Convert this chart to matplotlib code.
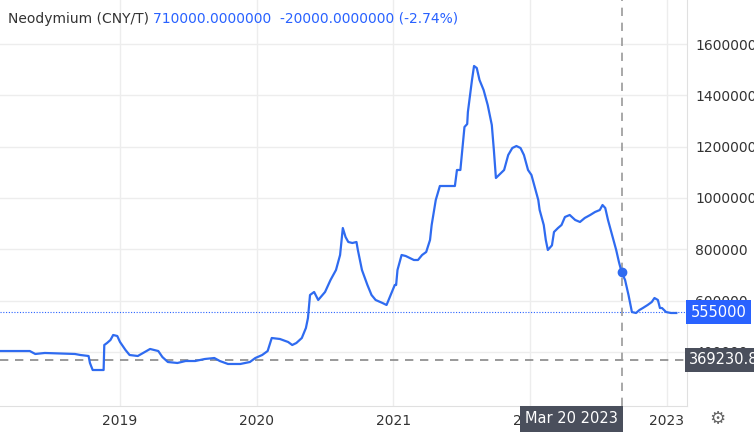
import matplotlib
matplotlib.use("Agg")
import matplotlib.pyplot as plt
from matplotlib.ticker import FuncFormatter

years = [2018.12,2018.34,2018.38,2018.45,2018.67,2018.71,2018.77,2018.78,2018.80,2018.88,2018.885,2018.905,2018.93,2018.95,2018.98,2019.00,2019.04,2019.07,2019.13,2019.18,2019.22,2019.28,2019.31,2019.35,2019.42,2019.48,2019.55,2019.62,2019.69,2019.73,2019.79,2019.88,2019.95,2019.99,2020.04,2020.08,2020.11,2020.17,2020.23,2020.26,2020.29,2020.33,2020.36,2020.375,2020.39,2020.42,2020.45,2020.50,2020.54,2020.58,2020.61,2020.63,2020.65,2020.67,2020.70,2020.73,2020.74,2020.77,2020.81,2020.84,2020.87,2020.92,2020.95,2020.98,2021.01,2021.02,2021.03,2021.06,2021.09,2021.12,2021.15,2021.18,2021.21,2021.24,2021.268,2021.28,2021.31,2021.34,2021.39,2021.45,2021.465,2021.49,2021.52,2021.54,2021.545,2021.575,2021.59,2021.61,2021.63,2021.66,2021.69,2021.72,2021.735,2021.75,2021.78,2021.81,2021.84,2021.87,2021.90,2021.93,2021.955,2021.985,2022.01,2022.03,2022.06,2022.07,2022.10,2022.115,2022.13,2022.16,2022.175,2022.204,2022.23,2022.255,2022.29,2022.33,2022.365,2022.40,2022.44,2022.475,2022.51,2022.53,2022.55,2022.57,2022.60,2022.63,2022.65,2022.67,2022.695,2022.72,2022.745,2022.775,2022.80,2022.825,2022.86,2022.89,2022.91,2022.935,2022.95,2022.965,2022.995,2023.03,2023.07]
prices = [403000,403000,391500,395400,391500,387500,383600,356400,329000,329000,426500,434300,446000,465500,461600,438200,407100,387500,383600,399000,411000,403000,379700,360200,356400,364100,364100,371900,375800,364100,352500,352500,360200,375800,387500,403000,453800,449900,438200,426500,434300,453800,492800,531800,621500,633200,602000,633200,679900,718900,777400,882500,847600,828100,824200,828100,796900,718900,660400,621500,602000,590300,582500,621500,660400,660400,718900,777400,773500,765700,757900,757900,777400,789100,835900,894400,991800,1046400,1046400,1046400,1108800,1108800,1276400,1288100,1334900,1459700,1514300,1506400,1459700,1420700,1362100,1284200,1186800,1077600,1093200,1108800,1167200,1194500,1202300,1194500,1167200,1108800,1089300,1050300,991800,952800,894400,835900,796900,815000,867100,882500,894400,925600,933400,913900,906100,921700,933400,945000,952800,972300,960600,913900,855400,796900,750100,710000,679900,621500,555000,551300,562900,570700,582500,594100,609700,602000,570700,570700,555000,551300,551300]

blue = "#2962ff"
fig = plt.figure(figsize=(7.54, 4.32), dpi=100)
ax = fig.add_axes([0, 26/432, 687/754, 406/432])
ax.plot(years, prices, color="#2f6bf0", lw=1.6, zorder=3)
ax.plot([2022.67], [710000], "o", color="#2f6bf0", ms=6, zorder=4)
ax.set_xlim(2018.122, 2023.148)
ax.set_ylim(188694, 1771540)
ax.set_xticks([2019, 2020, 2021, 2022, 2023])
ax.set_xticklabels(["2019", "2020", "2021", "2022", "2023"])
ax.set_yticks([400000, 600000, 800000, 1000000, 1200000, 1400000, 1600000])
ax.yaxis.set_major_formatter(FuncFormatter(lambda v, p: f"{int(v)}"))
ax.yaxis.tick_right()
ax.tick_params(length=0, labelsize=10, colors="#333333", pad=6)
ax.grid(True, color="#ededed", lw=1)
for s in ["top", "left"]:
    ax.spines[s].set_visible(False)
for s in ["right", "bottom"]:
    ax.spines[s].set_color("#e0e0e0")

ax.axhline(555000, color=blue, ls=(0, (1, 1.5)), lw=0.8)
ax.axhline(369230.8, color="#888888", ls=(0, (5, 4)), lw=1.2)
ax.axvline(2022.67, color="#999999", ls=(0, (5, 4)), lw=1.2)

tr = ax.get_yaxis_transform()
ax.text(1.005, 555000, "555000", transform=tr, color="white", fontsize=10.5, va="center", ha="left",
        bbox=dict(boxstyle="square,pad=0.3", fc=blue, ec="none"), clip_on=False, zorder=5)
ax.text(1.003, 369230.8, "369230.8", transform=tr, color="white", fontsize=10.5, va="center", ha="left",
        bbox=dict(boxstyle="square,pad=0.3", fc="#4a4f5c", ec="none"), clip_on=False, zorder=5)
ax.text(2022.30, -0.032, "Mar 20 2023", transform=ax.get_xaxis_transform(), color="white", fontsize=10.5,
        ha="center", va="center", bbox=dict(boxstyle="square,pad=0.35", fc="#4a4f5c", ec="none"),
        clip_on=False, zorder=5)
fig.text(717/754, 13/432, "\u2699", fontsize=13, color="#666666", ha="center", va="center")

fig.text(8/754, 1 - 19/432, "Neodymium (CNY/T)", fontsize=10, color="#333333", va="center")
fig.text(153/754, 1 - 19/432, "710000.0000000  -20000.0000000 (-2.74%)", fontsize=10, color=blue, va="center")
fig.savefig("out.png", dpi=100)
